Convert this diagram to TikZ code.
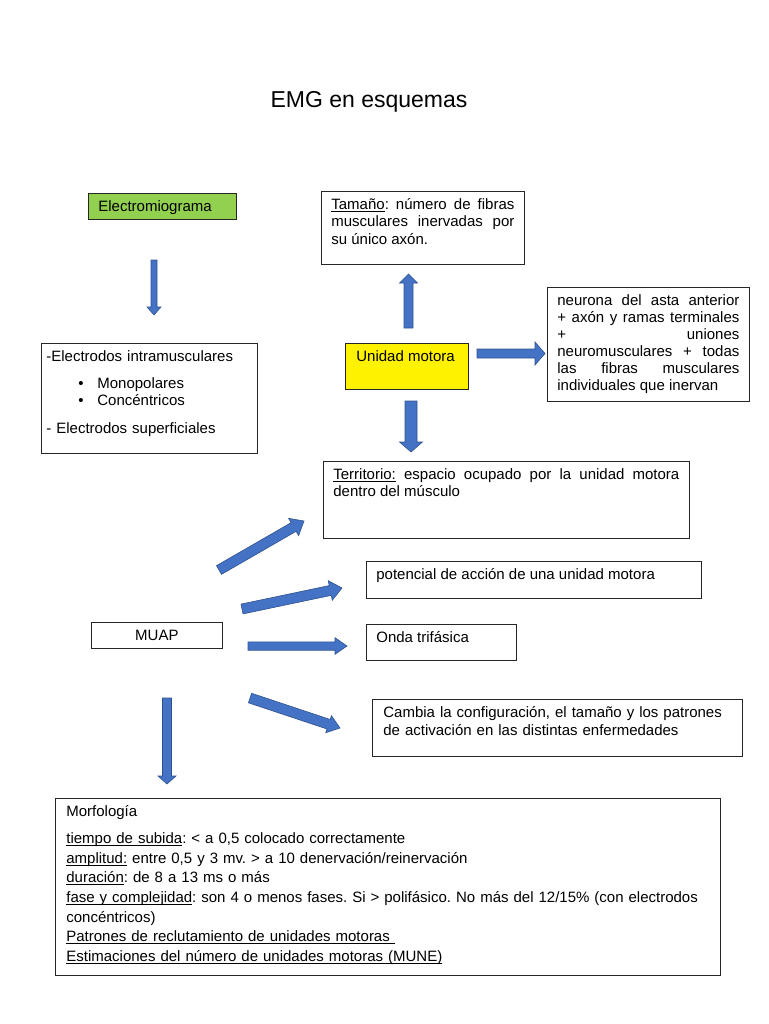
\documentclass[tikz,border=0pt]{standalone}
\usepackage{fontspec}
\setmainfont{Liberation Sans}
\usetikzlibrary{calc}
\definecolor{muagreen}{HTML}{92D050}
\definecolor{muablue}{HTML}{4472C4}
\definecolor{muaedge}{HTML}{2F528F}
\frenchspacing
\newcommand{\undl}[1]{\leavevmode\setbox0\hbox{#1}\rlap{\rule[-2.2pt]{\wd0}{0.7pt}}\box0\relax}
\newcommand{\blkarrow}[5]{%
  \path ($(#2)!#5!(#1)$) coordinate (hb);
  \filldraw[blk] ($(#1)!#3!90:(#2)$) -- ($(hb)!#3!90:(#2)$) -- ($(hb)!#4!90:(#2)$) -- (#2)
    -- ($(hb)!#4!-90:(#2)$) -- ($(hb)!#3!-90:(#2)$) -- ($(#1)!#3!-90:(#2)$) -- cycle;}
\begin{document}
\begin{tikzpicture}
  [x=1pt,y=-1pt,
   every node/.style={font=\fontsize{15}{17.5}\selectfont},
   box/.style={draw=black!85,line width=0.75pt,anchor=north west,inner xsep=10pt,
     inner ysep=6pt,text height=12pt,align=justify},
   blk/.style={fill=muablue,draw=muaedge,line width=0.6pt,line join=miter}]
  \useasboundingbox (0,0) rectangle (768,1024);

  \node[font=\fontsize{23}{27}\selectfont,anchor=base] (title) at (369,108) {EMG en esquemas};

  \node[box,fill=muagreen,text width=128pt,text depth=2pt] (elec) at (88,193) {Electromiograma};
  \node[box,text width=183pt,text depth=49pt] (tamano) at (321,191)
    {\undl{Tamaño}: número de fibras\linebreak musculares inervadas por\linebreak su único axón.};
  \node[box,align=left,inner xsep=5pt,text width=206pt,text depth=86pt] (electrodos) at (41,343)
    {-Electrodos intramusculares\\[9.5pt]
     \hspace*{32pt}\makebox[19pt][l]{\textbullet}Monopolares\\
     \hspace*{32pt}\makebox[19pt][l]{\textbullet}Concéntricos\\[10pt]
     - Electrodos superficiales};
  \node[box,fill=yellow,inner xsep=11pt,text width=101pt,text depth=22pt] (unidad) at (345,343) {Unidad motora};
  \node[box,font=\fontsize{15}{17}\selectfont,text width=182pt,text depth=90pt] (neurona) at (547,287)
    {neurona del asta anterior\linebreak + axón y ramas terminales\linebreak + uniones\linebreak
     neuromusculares + todas\linebreak las fibras musculares\linebreak individuales que inervan};
  \node[box,text width=346pt,text depth=53pt] (territorio) at (323,461)
    {\undl{Territorio:} espacio ocupado por la unidad motora\linebreak dentro del músculo};
  \node[box,text width=315pt,text depth=13pt] (potencial) at (366,561) {potencial de acción de una unidad motora};
  \node[box,align=center,text width=111pt,text depth=2pt] (muap) at (91,622) {MUAP};
  \node[box,text width=130pt,text depth=12pt] (onda) at (366,624) {Onda trifásica};
  \node[box,align=left,font=\fontsize{15}{18.5}\selectfont,inner xsep=11pt,text width=348pt,text depth=33pt]
    (cambia) at (372,699)
    {Cambia la configuración, el tamaño y los patrones\\ de activación en las distintas enfermedades};
  \node[box,align=left,font=\fontsize{15}{19.7}\selectfont,inner xsep=11pt,text width=643pt,text depth=153pt]
    (morfo) at (55,798)
    {Morfología\\[7.3pt]
     \undl{tiempo de subida}: < a 0,5 colocado correctamente\\
     \undl{amplitud:} entre 0,5 y 3 mv. > a 10 denervación/reinervación\\
     \undl{duración}: de 8 a 13 ms o más\\
     \undl{fase y complejidad}: son 4 o menos fases. Si > polifásico. No más del 12/15\% (con electrodos\\
     concéntricos)\\
     \undl{Patrones de reclutamiento de unidades motoras~}\\
     \undl{Estimaciones del número de unidades motoras (MUNE)}};

  % block arrows
  \coordinate (t1) at (154,260);   \coordinate (h1) at (154,315);
  \coordinate (t2) at (408.5,328); \coordinate (h2) at (408.5,274);
  \coordinate (t3) at (477,353.5); \coordinate (h3) at (545,353.5);
  \coordinate (t4) at (411,401);   \coordinate (h4) at (411,452);
  \coordinate (t5) at (219,570);   \coordinate (h5) at (304,521);
  \coordinate (t6) at (242,609);   \coordinate (h6) at (342,588);
  \coordinate (t7) at (248,646);   \coordinate (h7) at (347,646);
  \coordinate (t8) at (250,698);   \coordinate (h8) at (340,728);
  \coordinate (t9) at (167,698);   \coordinate (h9) at (167,784);
  \foreach \i/\w/\hw/\hl in {1/3pt/7pt/8pt, 2/4.5pt/9pt/9pt, 3/4.5pt/11.5pt/10pt,
      4/6pt/11.5pt/10pt, 5/5pt/10pt/12pt, 6/5pt/10pt/12pt, 7/4.2pt/8.3pt/12pt,
      8/5pt/9pt/12pt, 9/4.5pt/9pt/8pt} {
    \blkarrow{t\i}{h\i}{\w}{\hw}{\hl}
  }
\end{tikzpicture}
\end{document}
